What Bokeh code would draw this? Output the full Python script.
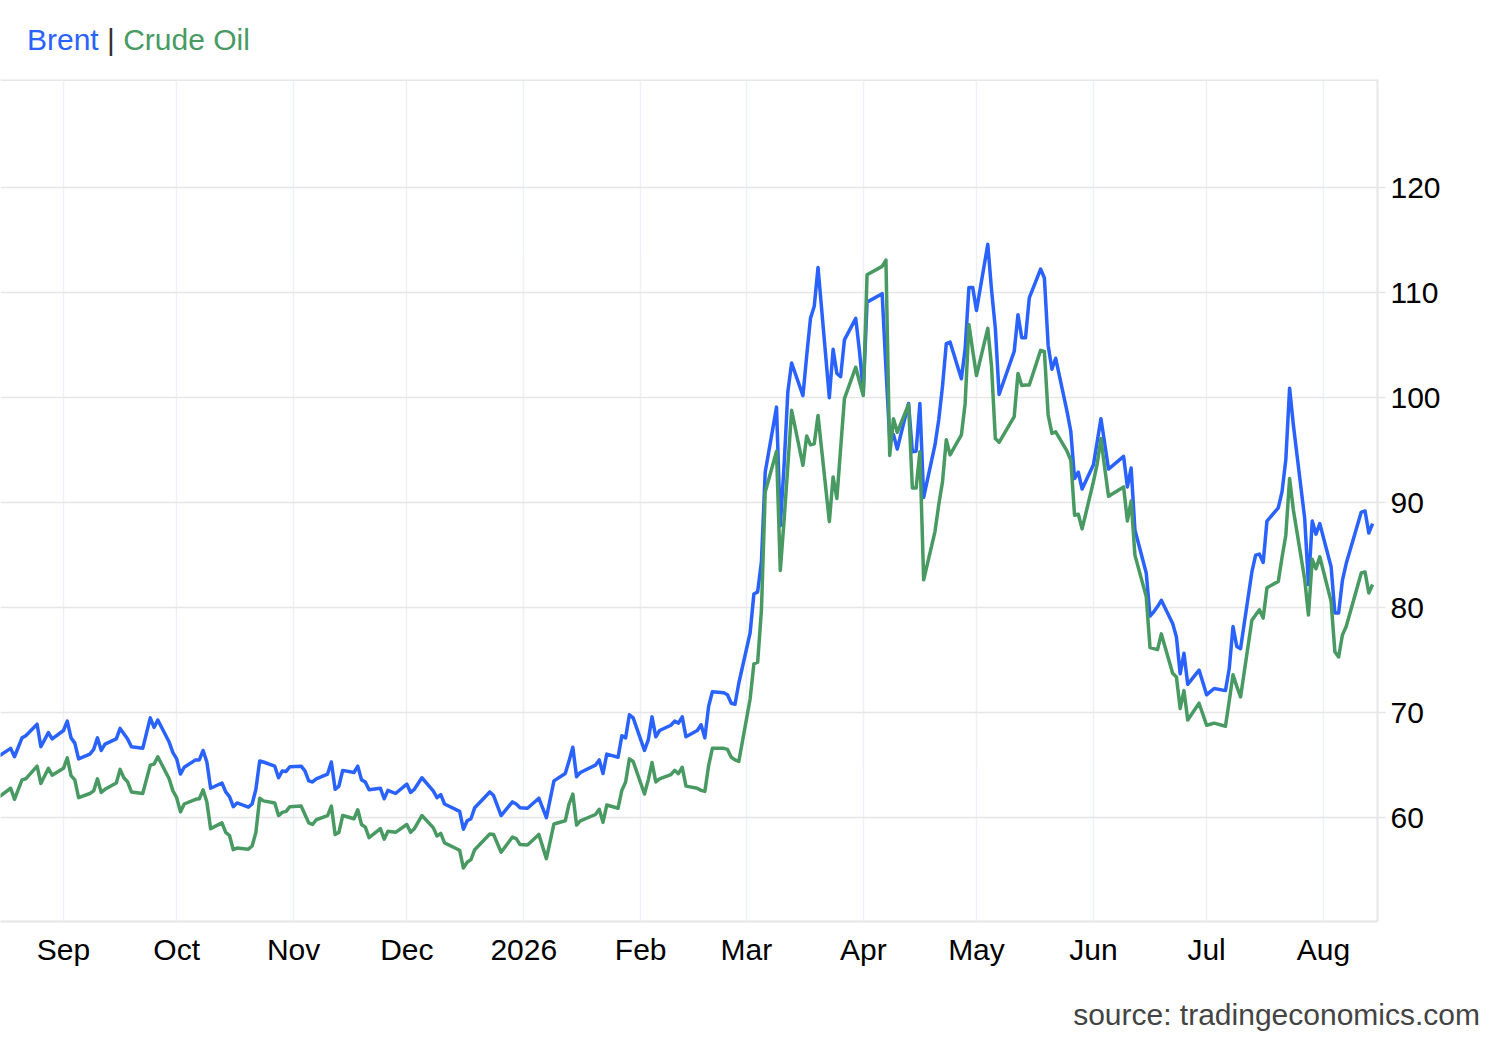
import pandas as pd
from bokeh.plotting import figure
from bokeh.layouts import column
from bokeh.models import Range1d, FixedTicker, Div, Span
from bokeh.embed import file_html
from bokeh.resources import INLINE

# ---------------- data ----------------
dates = [
    "2025-08-15", "2025-08-18", "2025-08-19", "2025-08-21", "2025-08-22", "2025-08-25", "2025-08-26",
    "2025-08-28", "2025-08-29", "2025-09-01", "2025-09-02", "2025-09-03", "2025-09-04", "2025-09-05",
    "2025-09-08", "2025-09-09", "2025-09-10", "2025-09-11", "2025-09-12", "2025-09-15", "2025-09-16",
    "2025-09-17", "2025-09-18", "2025-09-19", "2025-09-22", "2025-09-24", "2025-09-25", "2025-09-26",
    "2025-09-29", "2025-09-30", "2025-10-01", "2025-10-02", "2025-10-03", "2025-10-06", "2025-10-07",
    "2025-10-08", "2025-10-09", "2025-10-10", "2025-10-13", "2025-10-14", "2025-10-15", "2025-10-16",
    "2025-10-17", "2025-10-20", "2025-10-21", "2025-10-22", "2025-10-23", "2025-10-24", "2025-10-27",
    "2025-10-28", "2025-10-29", "2025-10-30", "2025-10-31", "2025-11-03", "2025-11-04", "2025-11-05",
    "2025-11-06", "2025-11-07", "2025-11-10", "2025-11-11", "2025-11-12", "2025-11-13", "2025-11-14",
    "2025-11-17", "2025-11-18", "2025-11-19", "2025-11-20", "2025-11-21", "2025-11-24", "2025-11-25",
    "2025-11-26", "2025-11-28", "2025-12-01", "2025-12-02", "2025-12-03", "2025-12-05", "2025-12-08",
    "2025-12-09", "2025-12-10", "2025-12-11", "2025-12-15", "2025-12-16", "2025-12-17", "2025-12-18",
    "2025-12-19", "2025-12-23", "2025-12-24", "2025-12-26", "2025-12-29", "2025-12-30", "2025-12-31",
    "2026-01-02", "2026-01-05", "2026-01-07", "2026-01-09", "2026-01-12", "2026-01-13", "2026-01-14",
    "2026-01-15", "2026-01-16", "2026-01-20", "2026-01-21", "2026-01-22", "2026-01-23", "2026-01-26",
    "2026-01-27", "2026-01-28", "2026-01-29", "2026-01-30", "2026-02-02", "2026-02-03", "2026-02-04",
    "2026-02-05", "2026-02-06", "2026-02-09", "2026-02-10", "2026-02-11", "2026-02-12", "2026-02-13",
    "2026-02-16", "2026-02-17", "2026-02-18", "2026-02-19", "2026-02-20", "2026-02-23", "2026-02-24",
    "2026-02-25", "2026-02-26", "2026-02-27", "2026-03-02", "2026-03-03", "2026-03-04", "2026-03-05",
    "2026-03-06", "2026-03-09", "2026-03-10", "2026-03-11", "2026-03-12", "2026-03-13", "2026-03-16",
    "2026-03-17", "2026-03-18", "2026-03-19", "2026-03-20", "2026-03-23", "2026-03-24", "2026-03-25",
    "2026-03-26", "2026-03-27", "2026-03-30", "2026-03-31", "2026-04-01", "2026-04-02", "2026-04-06",
    "2026-04-07", "2026-04-08", "2026-04-09", "2026-04-10", "2026-04-13", "2026-04-14", "2026-04-15",
    "2026-04-16", "2026-04-17", "2026-04-20", "2026-04-21", "2026-04-22", "2026-04-23", "2026-04-24",
    "2026-04-27", "2026-04-28", "2026-04-29", "2026-04-30", "2026-05-01", "2026-05-04", "2026-05-05",
    "2026-05-06", "2026-05-07", "2026-05-11", "2026-05-12", "2026-05-13", "2026-05-14", "2026-05-15",
    "2026-05-18", "2026-05-19", "2026-05-20", "2026-05-21", "2026-05-22", "2026-05-25", "2026-05-26",
    "2026-05-27", "2026-05-28", "2026-05-29", "2026-06-01", "2026-06-02", "2026-06-03", "2026-06-04",
    "2026-06-05", "2026-06-09", "2026-06-10", "2026-06-11", "2026-06-12", "2026-06-15", "2026-06-16",
    "2026-06-17", "2026-06-18", "2026-06-19", "2026-06-22", "2026-06-23", "2026-06-24", "2026-06-25",
    "2026-06-26", "2026-06-29", "2026-06-30", "2026-07-01", "2026-07-02", "2026-07-03", "2026-07-06",
    "2026-07-07", "2026-07-08", "2026-07-09", "2026-07-10", "2026-07-13", "2026-07-14", "2026-07-15",
    "2026-07-16", "2026-07-17", "2026-07-20", "2026-07-21", "2026-07-22", "2026-07-23", "2026-07-24",
    "2026-07-27", "2026-07-28", "2026-07-29", "2026-07-30", "2026-07-31", "2026-08-03", "2026-08-04",
    "2026-08-05", "2026-08-06", "2026-08-07", "2026-08-11", "2026-08-12", "2026-08-13", "2026-08-14",
]

brent = [
    65.9, 66.6, 65.8, 67.6, 67.8, 68.9, 66.75,
    68.1, 67.5, 68.3, 69.2, 67.6, 67.1, 65.6,
    66.05, 66.5, 67.6, 66.4, 67.0, 67.5, 68.5,
    68.0, 67.5, 66.75, 66.6, 69.5, 68.6, 69.3,
    67.2, 66.2, 65.6, 64.15, 64.8, 65.5, 65.5,
    66.4, 65.3, 62.8, 63.3, 62.45, 62.0, 61.05,
    61.4, 61.0, 61.3, 62.7, 65.4, 65.3, 64.9,
    63.8, 64.45, 64.4, 64.85, 64.9, 64.45, 63.5,
    63.4, 63.7, 64.15, 65.3, 62.7, 63.0, 64.5,
    64.3, 64.9, 63.6, 63.4, 62.65, 62.8, 61.8,
    62.6, 62.3, 63.2, 62.4, 62.7, 63.8, 62.55,
    61.9, 62.2, 61.3, 60.6, 58.9, 59.7, 59.9,
    60.95, 62.45, 62.1, 60.2, 61.5, 61.3, 60.95,
    60.9, 61.85, 60.0, 63.5, 64.2, 65.4, 66.7,
    63.9, 64.3, 65.0, 65.5, 64.2, 66.05, 65.75,
    67.8, 67.6, 69.8, 69.5, 66.4, 67.4, 69.6,
    67.7, 68.3, 68.8, 69.2, 69.0, 69.6, 67.7,
    68.3, 68.85, 67.6, 70.6, 72.0, 71.9, 71.7,
    70.9, 70.8, 72.8, 77.6, 81.3, 81.5, 84.4,
    92.9, 99.1, 87.8, 93.5, 100.55, 103.3, 100.2,
    104.0, 107.55, 108.7, 112.4, 100.0, 104.6, 102.3,
    102.0, 105.5, 107.55, 104.4, 100.5, 109.1, 109.9,
    102.8, 96.0, 96.5, 95.1, 99.45, 94.85, 94.9,
    99.45, 90.5, 95.5, 97.9, 101.1, 105.15, 105.3,
    101.8, 104.65, 110.5, 110.5, 108.3, 114.6, 110.25,
    106.6, 100.3, 104.4, 107.9, 105.7, 105.7, 109.5,
    112.25, 111.4, 105.0, 102.7, 103.75, 98.7, 96.8,
    92.3, 92.9, 91.3, 93.6, 95.8, 98.0, 95.6,
    93.2, 94.4, 91.5, 93.3, 87.4, 83.3, 79.2,
    79.6, 80.1, 80.7, 78.5, 77.2, 73.7, 75.65,
    72.7, 74.05, 72.9, 71.7, 72.0, 72.3, 72.1,
    74.2, 78.2, 76.3, 76.1, 83.4, 85.0, 85.1,
    84.3, 88.25, 89.5, 91.05, 94.1, 100.9, 97.4,
    88.5, 82.2, 88.25, 87.0, 88.0, 83.9, 79.5,
    79.5, 82.6, 84.2, 89.1, 89.2, 87.1, 88.0,
]

crude_oil = [
    62.0, 62.8, 61.75, 63.6, 63.7, 64.9, 63.25,
    64.7, 64.05, 64.7, 65.7, 64.0, 63.6, 61.9,
    62.3, 62.55, 63.7, 62.4, 62.7, 63.3, 64.6,
    63.8, 63.4, 62.45, 62.3, 65.0, 65.1, 65.8,
    63.7, 62.55, 61.9, 60.55, 61.3, 61.75, 61.8,
    62.65, 61.5, 58.95, 59.5, 58.6, 58.3, 56.95,
    57.1, 57.0, 57.3, 58.6, 61.85, 61.6, 61.4,
    60.2, 60.5, 60.6, 61.05, 61.1, 60.3, 59.5,
    59.35, 59.8, 60.2, 61.1, 58.4, 58.6, 60.2,
    59.9, 60.75, 59.35, 59.1, 58.1, 58.95, 57.95,
    58.7, 58.6, 59.35, 58.6, 58.95, 60.2, 59.05,
    58.25, 58.5, 57.6, 56.9, 55.2, 55.75, 56.0,
    56.95, 58.45, 58.4, 56.7, 58.15, 58.0, 57.45,
    57.4, 58.4, 56.1, 59.4, 59.7, 61.3, 62.25,
    59.3, 59.7, 60.3, 60.8, 59.55, 61.2, 60.9,
    62.6, 63.4, 65.6, 65.35, 62.25, 63.6, 65.25,
    63.4, 63.7, 64.1, 64.5, 64.2, 64.8, 63.0,
    62.8, 62.6, 62.5, 64.95, 66.6, 66.6, 66.5,
    65.75, 65.5, 65.35, 71.3, 74.65, 74.8, 79.8,
    91.0, 94.9, 83.55, 88.3, 93.5, 98.8, 93.55,
    96.35, 95.5, 95.6, 98.3, 88.2, 92.45, 90.4,
    95.2, 99.9, 102.9, 101.5, 100.2, 111.7, 112.5,
    113.1, 94.5, 98.0, 96.7, 99.35, 91.4, 91.4,
    94.85, 82.65, 87.25, 89.8, 92.0, 96.0, 94.55,
    96.45, 99.45, 106.96, 104.5, 102.1, 106.6, 102.95,
    96.1, 95.75, 98.2, 102.3, 101.15, 101.2, 101.2,
    104.5, 104.4, 98.35, 96.6, 96.75, 94.9, 94.06,
    88.8, 88.9, 87.5, 92.0, 93.7, 96.1, 93.3,
    90.6, 91.5, 88.25, 90.15, 85.0, 81.05, 76.2,
    76.1, 76.0, 77.5, 73.75, 73.4, 70.4, 72.1,
    69.3, 70.9, 69.85, 68.8, 68.9, 69.0, 68.7,
    71.1, 73.6, 72.5, 71.5, 78.8, 79.3, 79.8,
    79.0, 81.9, 82.5, 84.8, 86.9, 92.3, 89.3,
    82.7, 79.3, 84.6, 83.7, 84.85, 80.6, 75.8,
    75.3, 77.4, 78.2, 83.3, 83.4, 81.4, 82.2,
]

month_ticks = ["2025-09-01", "2025-10-01", "2025-11-01", "2025-12-01", "2026-01-01", "2026-02-01",
               "2026-03-01", "2026-04-01", "2026-05-01", "2026-06-01", "2026-07-01", "2026-08-01"]
month_labels = ["Sep", "Oct", "Nov", "Dec", "2026", "Feb", "Mar", "Apr", "May", "Jun", "Jul", "Aug"]
y_ticks = [60, 70, 80, 90, 100, 110, 120]

series_names = ["Brent", "Crude Oil"]
source_text = "source: tradingeconomics.com"
# -------------------------------------------------------------------------

BLUE = "#2962ff"
GREEN = "#489a62"
FONT = "Liberation Sans"
FSIZE = "30px"
Y_TOP = 130.3

x = pd.to_datetime(dates)
tick_ms = [float(pd.Timestamp(t).value // 10**6) for t in month_ticks]

# title as a small HTML block above the chart
title_html = (
    f'<div style="padding:23px 0 0 27px; font-family:\'{FONT}\'; font-size:{FSIZE}; '
    f'line-height:34px; white-space:nowrap;">'
    f'<span style="color:{BLUE}">{series_names[0]}</span> '
    f'<span style="color:#333333">|</span> '
    f'<span style="color:{GREEN}">{series_names[1]}</span></div>'
)
title_div = Div(text=title_html, width=1484, height=60, margin=0)

# source line as a small HTML block below the chart
source_html = (
    f'<div style="padding:27px 0 0 0; width:1480px; font-family:\'{FONT}\'; font-size:{FSIZE}; '
    f'line-height:34px; white-space:nowrap; text-align:right; color:#444444;">'
    f'{source_text}</div>'
)
source_div = Div(text=source_html, width=1484, height=61, margin=0)

p = figure(
    width=1484, height=911,
    x_axis_type="datetime", y_axis_location="right",
    x_range=Range1d(pd.Timestamp("2025-08-15 07:12"), pd.Timestamp("2026-08-15 07:12")),
    y_range=Range1d(50.11, Y_TOP),
    output_backend="svg", toolbar_location=None,
    min_border_left=0, min_border_right=107, min_border_top=19, min_border_bottom=50,
    margin=0,
)
p.outline_line_color = None
p.background_fill_color = "white"
p.border_fill_color = "white"

# x axis
xa = p.xaxis[0]
xa.ticker = FixedTicker(ticks=tick_ms)
xa.major_label_overrides = {t: lab for t, lab in zip(tick_ms, month_labels)}
xa.axis_line_color = "#e6e6e6"
xa.axis_line_width = 2
xa.major_tick_line_color = None
xa.minor_tick_line_color = None
xa.major_label_text_font = FONT
xa.major_label_text_font_size = FSIZE
xa.major_label_text_color = "#000000"
xa.major_label_standoff = 5

# y axis (right)
ya = p.yaxis[0]
ya.ticker = FixedTicker(ticks=y_ticks)
ya.axis_line_color = "#e6e6e6"
ya.axis_line_width = 2
ya.major_tick_line_color = "#e6e6e6"
ya.major_tick_line_width = 1.5
ya.major_tick_in = 0
ya.major_tick_out = 8
ya.minor_tick_line_color = None
ya.major_label_text_font = FONT
ya.major_label_text_font_size = FSIZE
ya.major_label_text_color = "#000000"
ya.major_label_standoff = 5

# grids
p.xgrid.ticker = FixedTicker(ticks=tick_ms)
p.xgrid.grid_line_color = "#edf0f4"
p.xgrid.grid_line_width = 1.5
p.ygrid.ticker = FixedTicker(ticks=y_ticks)
p.ygrid.grid_line_color = "#e6e6e6"
p.ygrid.grid_line_width = 1.5

# top border of the plot area
p.add_layout(Span(location=Y_TOP, dimension="width", line_color="#e6e6e6", line_width=3))

p.line(x, brent, color=BLUE, line_width=3.5, line_join="round")
p.line(x, crude_oil, color=GREEN, line_width=3.5, line_join="round")

layout = column(title_div, p, source_div, spacing=0)
open("out.html", "w").write(file_html(layout, INLINE))
